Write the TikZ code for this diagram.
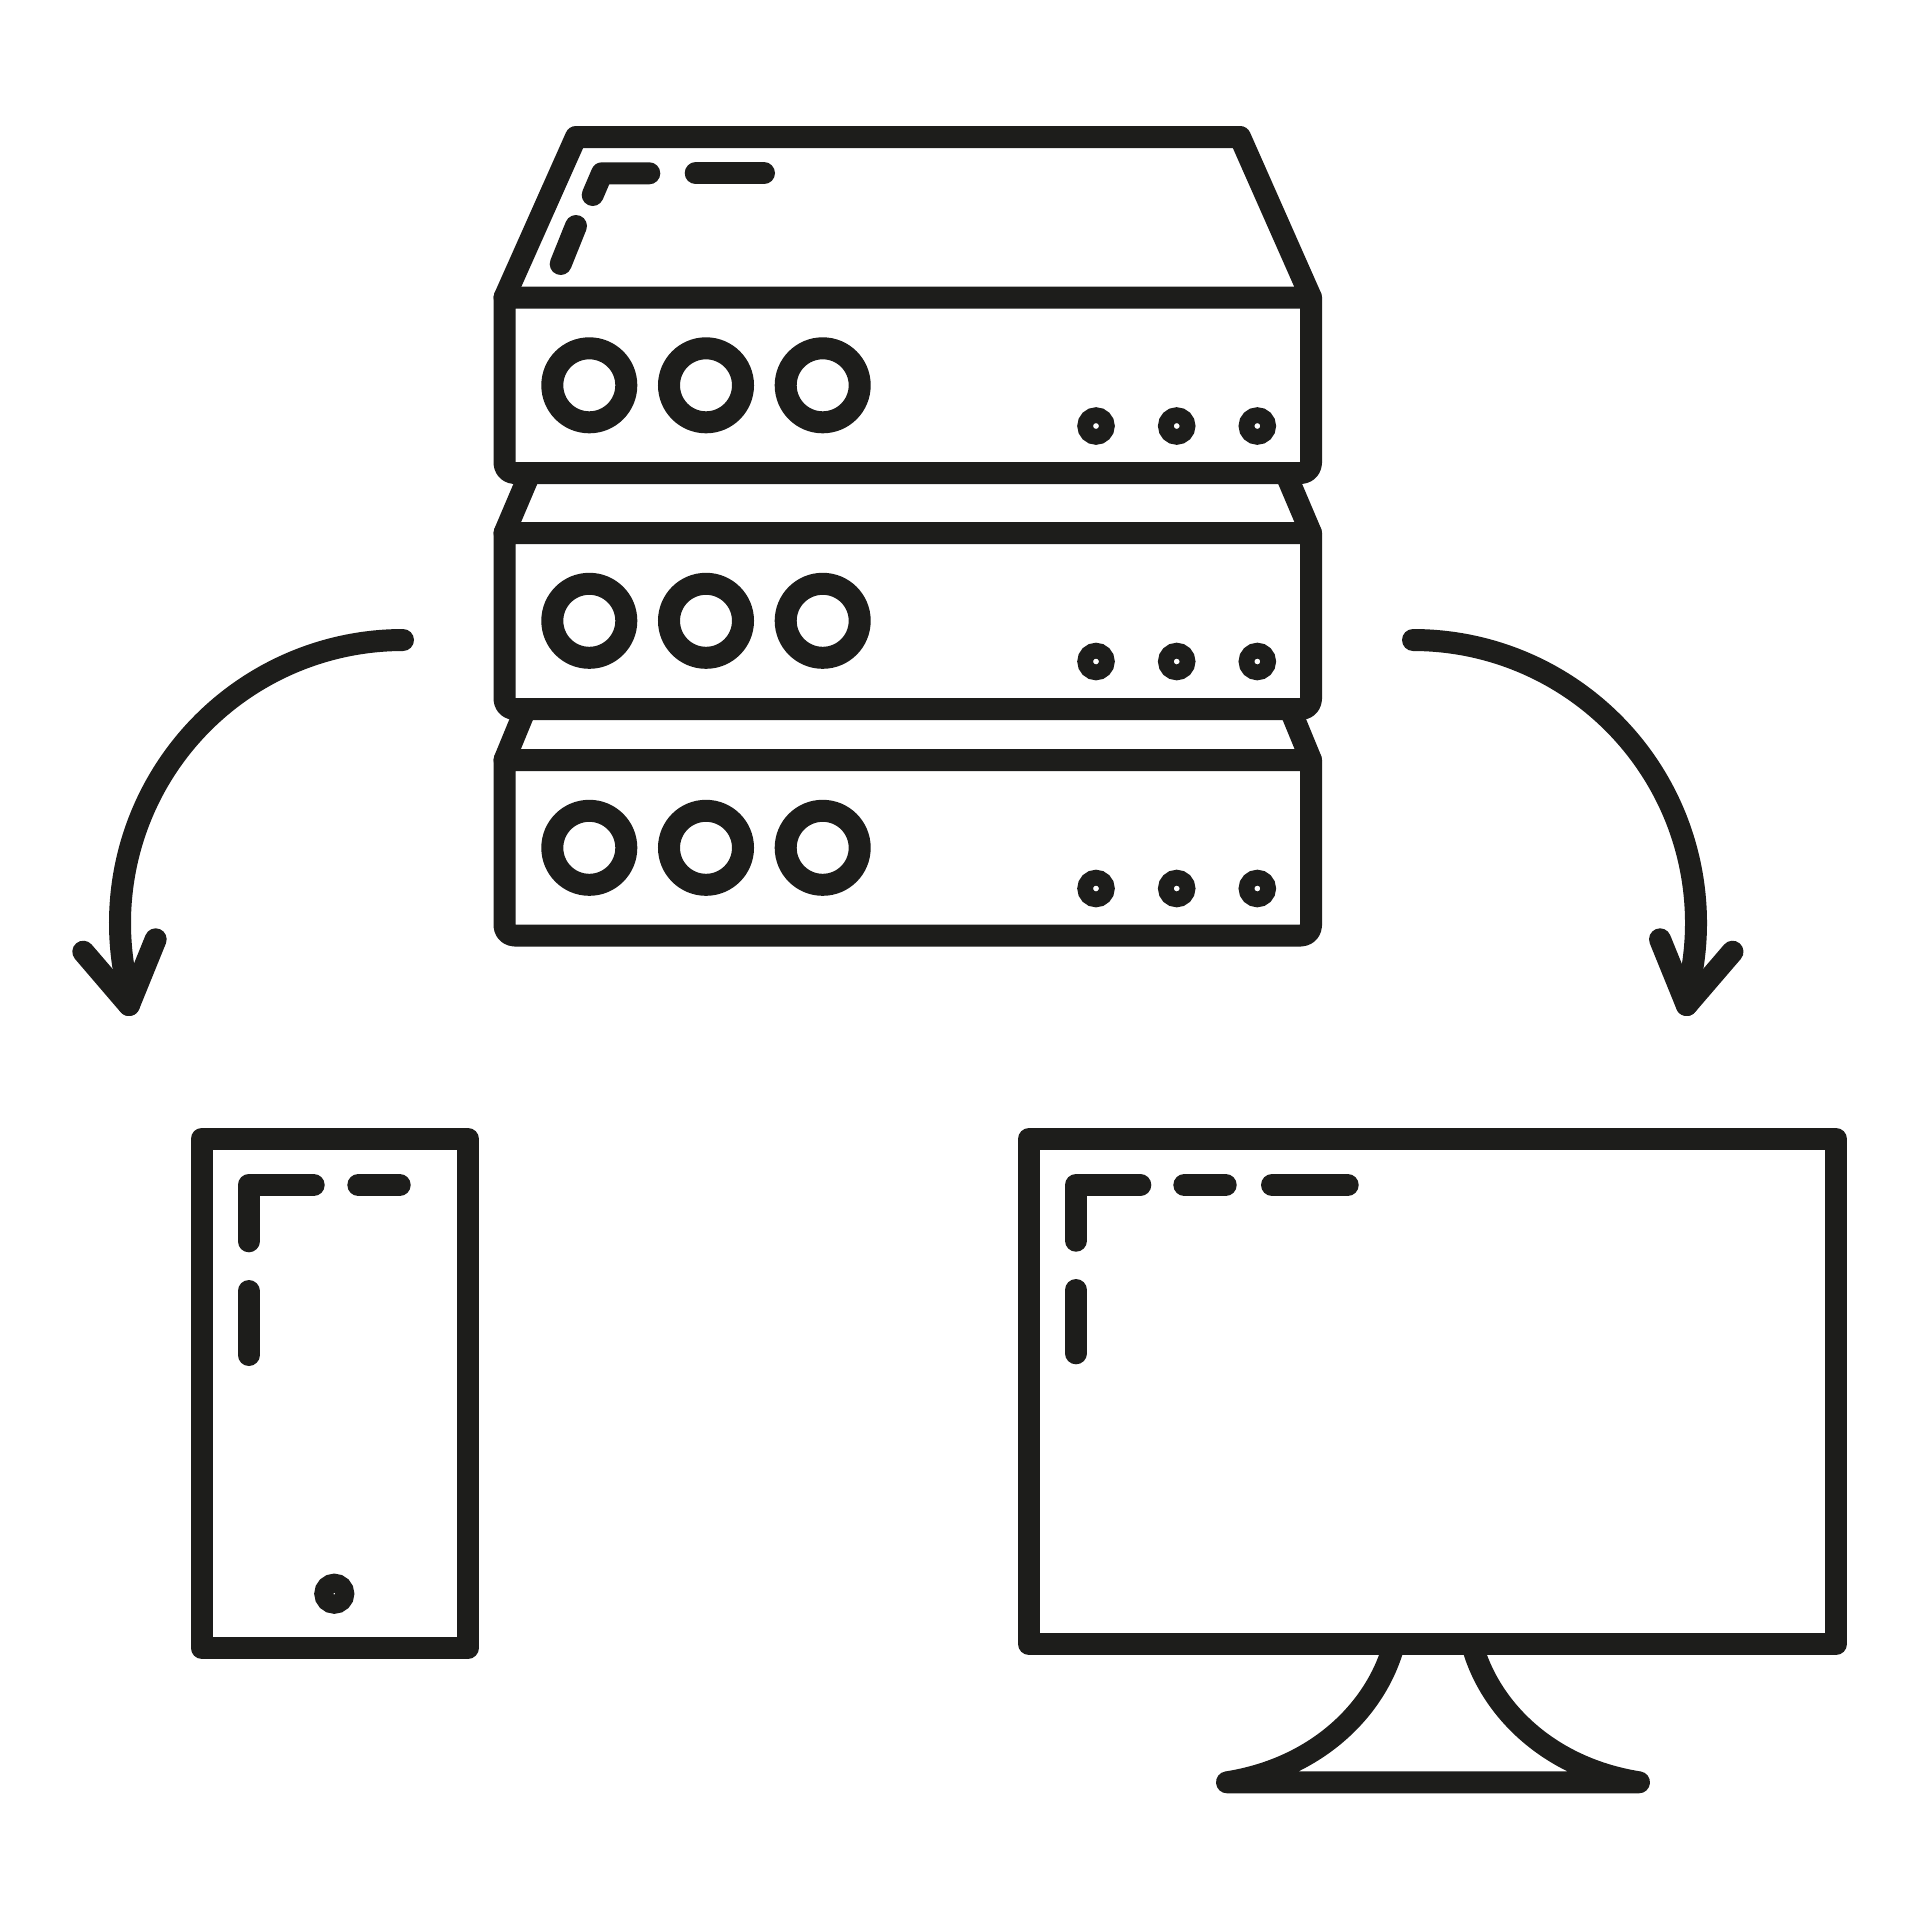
\documentclass[tikz,border=0pt]{standalone}
\definecolor{ink}{HTML}{1D1D1B}
\tikzset{
  outline/.style={draw=ink,line width=22pt,line join=round,line cap=round},
  bigled/.style={draw=ink,line width=22pt},
  smallled/.style={draw=ink,line width=15.7pt},
  pinled/.style={draw=ink,line width=19pt}
}
\begin{document}
\begin{tikzpicture}[x=1pt,y=1pt]
\useasboundingbox (0,-1920) rectangle (1920,0);
\fill[white] (0,-1920) rectangle (1920,0);
% server lid
\draw[outline] (504.5,-297.5) -- (576,-137) -- (1240,-137) -- (1311,-297.5);
\draw[outline] (592.7,-195) -- (602,-173.3) -- (649.3,-173.3);
\draw[outline] (695.7,-173.3) -- (764,-173.3);
\draw[outline] (576,-226) -- (560.7,-264);
% connecting slants
\draw[outline] (530,-473) -- (504.5,-533);
\draw[outline] (1285.5,-473) -- (1311,-533);
\draw[outline] (525.5,-709) -- (504.5,-760);
\draw[outline] (1290,-709) -- (1311,-760);
% server units
\foreach \ytop/\ybot in {-297.5/-473,-533/-709,-760/-935.5}{
  \draw[outline] (504.5,\ytop) -- (504.5,\ybot+10) arc[start angle=180,end angle=270,radius=10pt]
     -- (1301,\ybot) arc[start angle=270,end angle=360,radius=10pt] -- (1311,\ytop) -- cycle;
  \foreach \cx in {589.3,706,822.7}
    \draw[bigled] (\cx,\ytop-87.8) circle[radius=37pt];
  \foreach \cx in {1096,1176.7,1257.3}
    \draw[smallled] (\cx,\ytop-128.5) circle[radius=10.85pt];
}
% left arrow
\coordinate (arrowLstart) at (403,-640);
\coordinate (arrowLtip) at (129,-1005);
\draw[outline] (arrowLstart) arc[start angle=90,end angle=190,radius=283pt] -- (arrowLtip);
\draw[outline] (83.3,-951.7) -- (arrowLtip) -- (155.7,-939.3);
% right arrow
\coordinate (arrowRstart) at (1413,-640);
\coordinate (arrowRtip) at (1686.7,-1005);
\draw[outline] (arrowRstart) arc[start angle=90,end angle=-10,radius=283pt] -- (arrowRtip);
\draw[outline] (1732.5,-951.7) -- (arrowRtip) -- (1660,-939.3);
% tablet
\draw[outline] (201.5,-1139) rectangle (468,-1647.7);
\draw[outline] (248.7,-1241.3) -- (248.7,-1185) -- (313.7,-1185);
\draw[outline] (358.3,-1185) -- (399.7,-1185);
\draw[outline] (248.7,-1291) -- (248.7,-1355);
\draw[pinled] (334.3,-1593.7) circle[radius=10.5pt];
% monitor
\draw[outline] (1029,-1139) rectangle (1836,-1644);
\draw[outline] (1076,-1240.7) -- (1076,-1185) -- (1140.3,-1185);
\draw[outline] (1184.3,-1185) -- (1225.7,-1185);
\draw[outline] (1272,-1185) -- (1347.7,-1185);
\draw[outline] (1076,-1290) -- (1076,-1353.3);
% monitor stand
\draw[outline] (1394,-1644) .. controls (1377,-1708) and (1318,-1768) .. (1227,-1782.3) -- (1639,-1782.3) .. controls (1548,-1768) and (1489,-1708) .. (1472,-1644);
\end{tikzpicture}
\end{document}
